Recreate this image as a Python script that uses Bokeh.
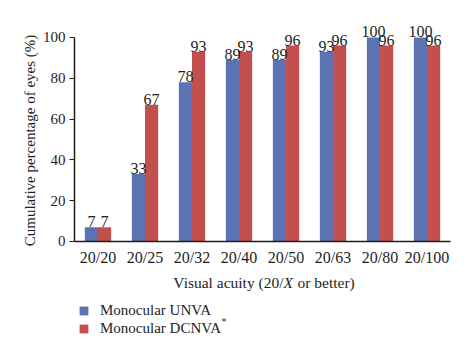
import math
from bokeh.plotting import figure
from bokeh.models import ColumnDataSource, Label, Legend, LegendItem, FixedTicker, Range1d, LinearAxis
from bokeh.core.properties import value
from bokeh.transform import dodge
from bokeh.embed import file_html
from bokeh.resources import INLINE

categories = ["20/20", "20/25", "20/32", "20/40", "20/50", "20/63", "20/80", "20/100"]
unva = [7, 33, 78, 89, 89, 93, 100, 100]
dcnva = [7, 67, 93, 93, 96, 96, 96, 96]
series_names = ["Monocular UNVA", "Monocular DCNVA"]
y_ticks = [0, 20, 40, 60, 80, 100]

BLUE = "#5B73B3"
RED = "#C4504E"
INK = "#1E1E1E"
FONT = "Liberation Serif"

idx = list(range(len(categories)))
src = ColumnDataSource(dict(
    x=idx, unva=unva, dcnva=dcnva,
    unva_lbl=[str(v) for v in unva], dcnva_lbl=[str(v) for v in dcnva],
))

# frame covers the whole canvas; axes are pinned inside it
p = figure(width=474, height=356, output_backend="svg", toolbar_location=None,
           x_range=Range1d(-2.074, 8.01), y_range=Range1d(-56.4, 118.1),
           x_axis_location=None, y_axis_location=None,
           min_border=0, min_border_left=0, min_border_right=0,
           min_border_top=0, min_border_bottom=0)
p.outline_line_color = None
p.xgrid.grid_line_color = None
p.ygrid.grid_line_color = None

w = 0.28
r1 = p.vbar(x=dodge("x", -w / 2), top="unva", width=w, bottom=0,
            source=src, fill_color=BLUE, line_color=None)
r2 = p.vbar(x=dodge("x", w / 2), top="dcnva", width=w, bottom=0,
            source=src, fill_color=RED, line_color=None)

for col, lbl, off in (("unva", "unva_lbl", -w / 2), ("dcnva", "dcnva_lbl", w / 2)):
    p.text(x=dodge("x", off), y=col, text=lbl, source=src,
           text_align="center", text_baseline="bottom", y_offset=0,
           text_font=value(FONT), text_font_size="16px", text_color=INK)

yax = LinearAxis(fixed_location=-0.5, bounds=(0, 100), ticker=FixedTicker(ticks=y_ticks))
xax = LinearAxis(fixed_location=0, bounds=(-0.5, len(categories) - 0.5),
                 ticker=FixedTicker(ticks=idx),
                 major_label_overrides={i: c for i, c in zip(idx, categories)})
for ax in (xax, yax):
    ax.axis_line_color = INK
    ax.axis_line_width = 1.5
    ax.major_label_text_font = FONT
    ax.major_label_text_color = INK
    ax.minor_tick_line_color = None
yax.major_label_text_font_size = "15px"
xax.major_label_text_font_size = "16px"
yax.major_tick_in = 0
yax.major_tick_out = 5
yax.major_tick_line_color = INK
yax.major_label_standoff = 4
xax.major_tick_line_color = None
xax.major_tick_in = 0
xax.major_tick_out = 0
xax.major_label_standoff = 8
p.add_layout(yax, "left")
p.add_layout(xax, "below")

H = 356
# axis titles (screen units from bottom-left of canvas)
p.add_layout(Label(x=29, y=H - 140, x_units="screen", y_units="screen",
                   text="Cumulative percentage of eyes (%)", angle=math.pi / 2,
                   text_align="center", text_baseline="middle",
                   text_font=FONT, text_font_size="15px", text_color=INK))
lab_kw = dict(x_units="screen", y_units="screen", y=H - 282, text_font=FONT,
              text_font_size="15.5px", text_color=INK, text_baseline="alphabetic")
p.add_layout(Label(x=283, text="Visual acuity (20/", text_align="right", **lab_kw))
p.add_layout(Label(x=283, text="X", text_align="left", text_font_style="italic", **lab_kw))
p.add_layout(Label(x=297, text="or better)", text_align="left", **lab_kw))

legend = Legend(items=[LegendItem(label=series_names[0], renderers=[r1]),
                       LegendItem(label=series_names[1], renderers=[r2])],
                location=(78, H - 337), orientation="vertical",
                glyph_width=11, glyph_height=11, label_standoff=11, spacing=1,
                padding=0, margin=0, border_line_color=None, background_fill_alpha=0,
                label_text_font=FONT, label_text_font_size="15px", label_text_color=INK)
p.add_layout(legend, "center")
p.add_layout(Label(x=221, y=H - 326, x_units="screen", y_units="screen", text="*",
                   text_font=FONT, text_font_size="10px", text_color=INK))

open("out.html", "w").write(file_html(p, INLINE))
